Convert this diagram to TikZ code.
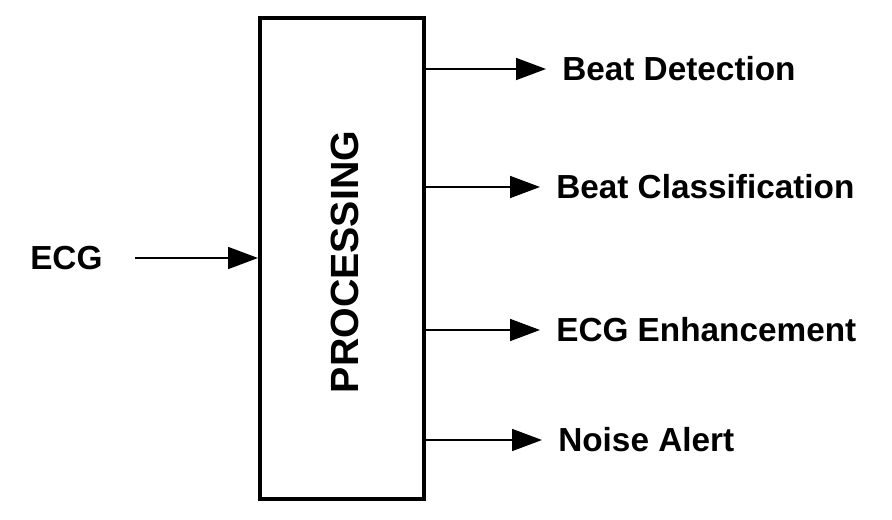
\documentclass[tikz,border=0pt]{standalone}
\usepackage{fontspec}
\setmainfont{Liberation Sans}
\usetikzlibrary{arrows.meta}
\begin{document}
\begin{tikzpicture}[x=0.75pt,y=-0.75pt,
  lbl/.style={font=\bfseries\fontsize{25}{30}\selectfont,anchor=west,inner sep=0},
  arr/.style={line width=1.3pt,-{Triangle[length=30*0.75pt,width=22*0.75pt]}}]
\useasboundingbox (0,0) rectangle (892,519);
\node[draw,line width=3pt,minimum width=164*0.75pt,minimum height=481*0.75pt,inner sep=0] (p) at (342,258.5) {};
\node[rotate=90,font=\bfseries\fontsize{29.5}{34}\selectfont] (pt) at (345,262) {PROCESSING};
\node[lbl] (ecg) at (30,258) {ECG};
\coordinate (e0) at (135,258);
\draw[arr] (e0) -- (p.west |- e0);
\foreach \y/\x/\t/\n in {69/562/Beat Detection/a,187/556/Beat Classification/b,330/556/ECG Enhancement/c,440/558/Noise Alert/d}{
  \node[lbl] (\n) at (\x,\y) {\t};
  \coordinate (s\n) at (425,\y);
  \draw[arr] (s\n) -- (\x-16,\y);
}
\end{tikzpicture}
\end{document}
